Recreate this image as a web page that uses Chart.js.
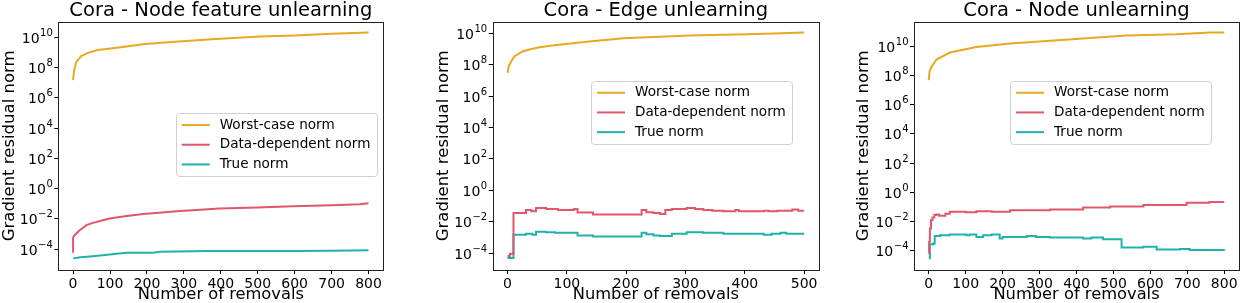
<!DOCTYPE html>
<html>
<head>
<meta charset="utf-8">
<script src="https://cdn.jsdelivr.net/npm/chart.js@4.4.1/dist/chart.umd.min.js"></script>
<style>
  body { margin: 0; background: #fff; width: 1244px; height: 303px; overflow: hidden; position: relative; }
  canvas { position: absolute; top: 0; }
</style>
</head>
<body>
<canvas id="featureChart" width="400" height="303" style="left:0px"></canvas>
<canvas id="edgeChart" width="400" height="303" style="left:434px"></canvas>
<canvas id="nodeChart" width="390" height="303" style="left:854px"></canvas>
<script>
const FONT = '"DejaVu Sans", "Liberation Sans", sans-serif';

const seriesNames = ['Worst-case norm', 'Data-dependent norm', 'True norm'];
const seriesColors = ['#e8a820', '#e0566a', '#1fb2ab'];
const yTickExps = [-4, -2, 0, 2, 4, 6, 8, 10];
const xTicks800 = [0, 100, 200, 300, 400, 500, 600, 700, 800];
const xTicks500 = [0, 100, 200, 300, 400, 500];

// Cora - Node feature unlearning
const featWorstX = [0, 3, 9, 22, 40, 67, 113, 195, 276, 375, 505, 600, 700, 800];
const featWorst = [1.45e7, 7e7, 2.3e8, 5.6e8, 9.1e8, 1.4e9, 1.9e9, 3.5e9, 4.9e9, 7.1e9, 1.1e10, 1.3e10, 1.65e10, 2e10];
const featDDX = [0, 0, 4, 18, 36, 54, 81, 99, 140, 190, 281, 397, 500, 595, 700, 776, 800];
const featDD = [5.8e-5, 6e-4, 8.5e-4, 1.8e-3, 3.9e-3, 5.5e-3, 8.3e-3, 1.07e-2, 1.5e-2, 2.1e-2, 3.2e-2, 4.9e-2, 5.8e-2, 6.9e-2, 8e-2, 9.5e-2, 1.1e-1];
const featTrueX = [0, 20, 54, 99, 144, 216, 234, 369, 594, 700, 800];
const featTrue = [2.5e-5, 3e-5, 3.5e-5, 4.5e-5, 5.8e-5, 5.8e-5, 6.8e-5, 7.6e-5, 7.6e-5, 8e-5, 8.7e-5];

// Cora - Edge unlearning
const edgeWorstX = [0, 2, 6, 12, 25, 40, 54, 82, 138, 195, 308, 421, 500];
const edgeWorst = [3e7, 8e7, 1.6e8, 3.5e8, 6.9e8, 1e9, 1.3e9, 1.8e9, 3e9, 4.8e9, 7.1e9, 9.1e9, 1.1e10];
const edgeDDX = [0, 4, 10, 31, 40, 48, 65, 85, 112, 118, 144, 226, 234, 246, 257, 266, 277, 302, 316, 330, 345, 364, 384, 390, 432, 440, 455, 480, 490, 500];
const edgeDD = [6.5e-5, 9e-5, 3.5e-2, 5.6e-2, 4.6e-2, 7.4e-2, 6.3e-2, 5.6e-2, 6.3e-2, 3.8e-2, 2.8e-2, 5.6e-2, 4e-2, 3.5e-2, 3.1e-2, 5.6e-2, 6.5e-2, 7.4e-2, 6.5e-2, 5.6e-2, 5e-2, 4.6e-2, 5.6e-2, 4.6e-2, 5e-2, 4.6e-2, 5e-2, 6e-2, 5e-2, 5e-2];
const edgeTrueX = [0, 10, 31, 42, 48, 65, 80, 118, 144, 226, 234, 246, 257, 277, 302, 330, 364, 432, 445, 460, 470, 500];
const edgeTrue = [4.9e-5, 1.45e-3, 1.7e-3, 1.45e-3, 2.3e-3, 2.1e-3, 1.95e-3, 1.3e-3, 1.15e-3, 1.95e-3, 1.6e-3, 1.3e-3, 1.2e-3, 1.7e-3, 2.1e-3, 1.95e-3, 1.7e-3, 1.45e-3, 1.7e-3, 1.95e-3, 1.7e-3, 1.7e-3];

// Cora - Node unlearning
const nodeWorstX = [0, 2, 7, 21, 57, 129, 220, 310, 446, 536, 671, 762, 800];
const nodeWorst = [5.1e7, 2e8, 4.2e8, 1.35e9, 4.1e9, 1e10, 1.7e10, 2.45e10, 4.2e10, 6e10, 7.4e10, 1e11, 1e11];
const nodeDDX = [0, 1, 3, 6, 10, 15, 20, 28, 45, 57, 100, 129, 170, 220, 328, 418, 491, 581, 698, 760, 800];
const nodeDD = [5.9e-5, 3.7e-4, 3.1e-3, 1.15e-2, 1.8e-2, 2.6e-2, 2.8e-2, 2.3e-2, 3.2e-2, 4.4e-2, 4.1e-2, 4.7e-2, 4.4e-2, 5.6e-2, 6.3e-2, 8.7e-2, 1e-1, 1.26e-1, 1.8e-1, 2.1e-1, 2.1e-1];
const nodeTrueX = [0, 3, 12, 16, 30, 57, 102, 111, 129, 147, 170, 192, 200, 265, 290, 328, 418, 440, 472, 522, 581, 617, 680, 707, 800];
const nodeTrue = [2.7e-5, 2.5e-4, 2.9e-4, 9.5e-4, 1.07e-3, 1.2e-3, 1.07e-3, 1.2e-3, 8.1e-4, 1.07e-3, 1.2e-3, 6.3e-4, 8.1e-4, 9.5e-4, 8.1e-4, 7.4e-4, 6.3e-4, 7.4e-4, 5.5e-4, 1.5e-4, 1.7e-4, 1.1e-4, 1.2e-4, 1e-4, 1.1e-4];

function points(xs, ys) {
    return xs.map((x, i) => ({x: x, y: ys[i]}));
}

// black box round the plot area, like the matplotlib spines
const frameBox = {
    id: 'frameBox',
    afterDatasetsDraw(chart) {
        const {ctx, chartArea: a} = chart;
        ctx.save();
        ctx.strokeStyle = '#222';
        ctx.lineWidth = 1;
        const l = Math.round(a.left) + 0.5, t = Math.round(a.top) + 0.5;
        const r = Math.round(a.right) + 0.5, b = Math.round(a.bottom) + 0.5;
        ctx.strokeRect(l, t, r - l, b - t);
        ctx.restore();
    }
};

// y tick labels as 10 with a raised exponent
const powLabels = {
    id: 'powLabels',
    afterDraw(chart) {
        const {ctx} = chart;
        const scale = chart.scales.y;
        const right = scale.right - 4 - 1.5;
        ctx.save();
        ctx.fillStyle = '#000';
        ctx.textAlign = 'left';
        ctx.textBaseline = 'alphabetic';
        for (const t of scale.ticks) {
            const py = scale.getPixelForValue(t.value);
            const e = Math.round(Math.log10(t.value));
            const sup = (e < 0 ? '\u2212' : '') + Math.abs(e);
            ctx.font = '10px ' + FONT;
            const supW = ctx.measureText(sup).width;
            ctx.fillText(sup, right - supW, py - 1.5);
            ctx.font = '14px ' + FONT;
            const baseW = ctx.measureText('10').width;
            ctx.fillText('10', right - supW - baseW - 0.5, py + 5.5);
        }
        ctx.restore();
    }
};

// legend box drawn inside the axes
const insideLegend = {
    id: 'insideLegend',
    afterDraw(chart, args, opts) {
        const {ctx, chartArea} = chart;
        const sets = chart.data.datasets;
        ctx.save();
        ctx.font = '13.6px ' + FONT;
        const textW = Math.max(...sets.map(d => ctx.measureText(d.label).width));
        const x = chartArea.left + opts.x, y = chartArea.top + opts.y;
        const rowH = 19.7;
        const w = 6 + 28 + 10 + textW + 6;
        const h = 11.7 + rowH * (sets.length - 1) + 12.4;
        ctx.beginPath();
        ctx.roundRect(Math.round(x) + 0.5, Math.round(y) + 0.5, Math.round(w), Math.round(h), 3);
        ctx.fillStyle = 'rgba(255,255,255,0.8)';
        ctx.fill();
        ctx.strokeStyle = '#d0d0d0';
        ctx.lineWidth = 1;
        ctx.stroke();
        sets.forEach((d, i) => {
            const cy = y + 11.7 + i * rowH;
            ctx.strokeStyle = d.borderColor;
            ctx.lineWidth = 2;
            ctx.beginPath();
            ctx.moveTo(x + 6, cy);
            ctx.lineTo(x + 34, cy);
            ctx.stroke();
            ctx.fillStyle = '#000';
            ctx.textBaseline = 'middle';
            ctx.fillText(d.label, x + 44, cy);
        });
        ctx.restore();
    }
};

function makeChart(id, cfg) {
    const series = cfg.series.map((s, i) => ({
        label: seriesNames[i],
        data: points(s.x, s.y),
        borderColor: seriesColors[i],
        backgroundColor: seriesColors[i],
        borderWidth: 2,
        pointRadius: 0,
        stepped: s.stepped || false,
        fill: false
    }));
    return new Chart(document.getElementById(id), {
        type: 'line',
        data: {datasets: series},
        options: {
            responsive: false,
            animation: false,
            layout: {padding: {left: 0, right: cfg.padRight, top: 0, bottom: 0}},
            plugins: {
                legend: {display: false},
                tooltip: {enabled: false},
                title: {
                    display: true, text: cfg.title, fullSize: false, color: '#000',
                    font: {family: FONT, size: 19.5, weight: 'normal', lineHeight: 1.11},
                    padding: 0
                },
                insideLegend: {x: cfg.legendX, y: cfg.legendY}
            },
            scales: {
                x: {
                    type: 'linear', min: cfg.xMin, max: cfg.xMax, bounds: 'data',
                    afterBuildTicks: s => { s.ticks = cfg.xTicks.map(v => ({value: v})); },
                    afterFit: s => { s.height = 33; },
                    grid: {drawOnChartArea: false, color: '#000', tickLength: 4},
                    border: {display: false},
                    ticks: {color: '#000', font: {family: FONT, size: 14}, padding: 2, maxRotation: 0, autoSkip: false},
                    title: {display: true, text: 'Number of removals', color: '#000',
                            font: {family: FONT, size: 16.3, lineHeight: 1}, padding: 0}
                },
                y: {
                    type: 'logarithmic', min: cfg.yMin, max: cfg.yMax, bounds: 'data',
                    afterBuildTicks: s => { s.ticks = yTickExps.map(e => ({value: Math.pow(10, e)})); },
                    afterFit: s => { s.width = cfg.yWidth; },
                    grid: {drawOnChartArea: false, color: '#000', tickLength: 4},
                    border: {display: false},
                    ticks: {autoSkip: false, callback: () => ''},
                    title: {display: true, text: 'Gradient residual norm', color: '#000',
                            font: {family: FONT, size: 16.5, lineHeight: 1.2}, padding: 0}
                }
            }
        },
        plugins: [frameBox, powLabels, insideLegend]
    });
}

makeChart('featureChart', {
    title: 'Cora - Node feature unlearning',
    series: [
        {x: featWorstX, y: featWorst},
        {x: featDDX, y: featDD},
        {x: featTrueX, y: featTrue}
    ],
    xMin: -40, xMax: 840, xTicks: xTicks800,
    yMin: 4.27e-6, yMax: 1.05e11,
    yWidth: 58.3, padRight: 16.7,
    legendX: 117.4, legendY: 91.7
});

makeChart('edgeChart', {
    title: 'Cora - Edge unlearning',
    series: [
        {x: edgeWorstX, y: edgeWorst},
        {x: edgeDDX, y: edgeDD, stepped: true},
        {x: edgeTrueX, y: edgeTrue, stepped: true}
    ],
    xMin: -25, xMax: 525, xTicks: xTicks500,
    yMin: 8.3e-6, yMax: 5.5e10,
    yWidth: 58.7, padRight: 15,
    legendX: 98.3, legendY: 59.4
});

makeChart('nodeChart', {
    title: 'Cora - Node unlearning',
    series: [
        {x: nodeWorstX, y: nodeWorst},
        {x: nodeDDX, y: nodeDD, stepped: true},
        {x: nodeTrueX, y: nodeTrue, stepped: true}
    ],
    xMin: -40, xMax: 840, xTicks: xTicks800,
    yMin: 4.27e-6, yMax: 5.5e11,
    yWidth: 60, padRight: 5,
    legendX: 96, legendY: 59.4
});
</script>
</body>
</html>
